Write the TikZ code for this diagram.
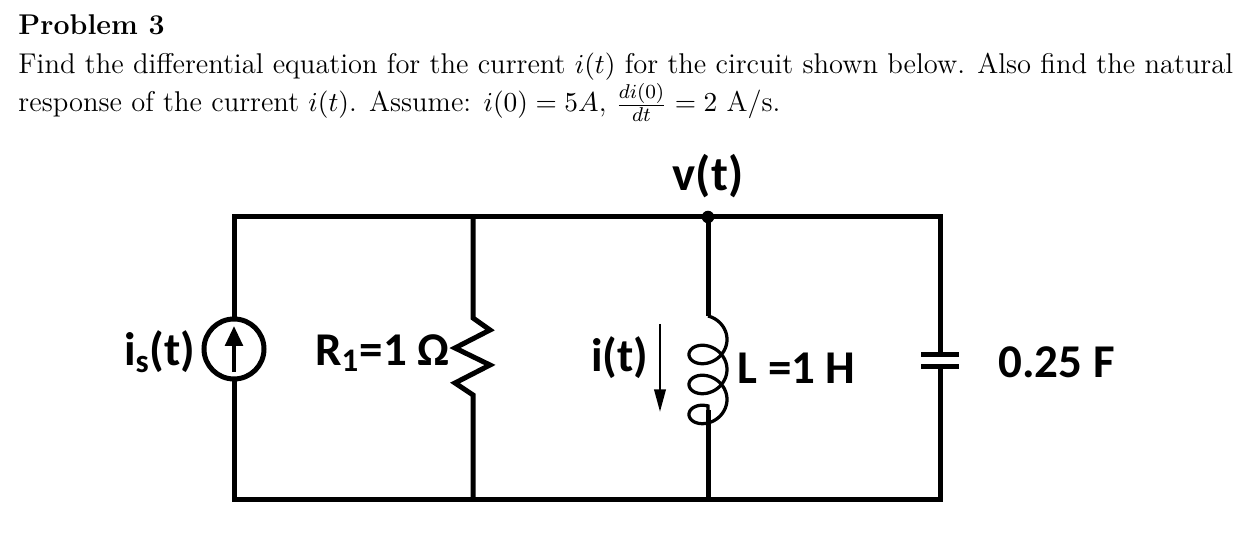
\documentclass[tikz,border=0pt]{standalone}
\usepackage{fontspec}
\newfontfamily\lab{Carlito}[BoldFont={* Bold}]
\usetikzlibrary{arrows.meta}
\begin{document}
\begin{tikzpicture}[x=0.4pt,y=-0.4pt,
  wire/.style={line width=2pt,line join=miter},
  lbl/.style={font=\lab\bfseries\fontsize{18.8}{22}\selectfont,inner sep=0pt},
  txt/.style={anchor=base west,inner sep=0pt,font=\fontsize{11.42}{13}\selectfont}]
\useasboundingbox (0,0) rectangle (1256,551);
% text
\node[txt,font=\bfseries\fontsize{11.42}{13}\selectfont] (t0) at (18,35) {Problem 3};
\node[txt] (t1) at (18,74) {Find the differential equation for the current $i(t)$ for the circuit shown below. Also find the natural};
\node[txt] (t2) at (18,112) {response of the current $i(t)$. Assume: $i(0)=5A$, $\frac{di(0)}{dt}=2$ A/s.};
% wires
\coordinate (a1) at (234,217); \coordinate (a2) at (234,500);
\coordinate (b1) at (473,217); \coordinate (b2) at (473,500);
\coordinate (c1) at (708,217); \coordinate (c2) at (708,500);
\coordinate (d1) at (940,217); \coordinate (d2) at (940,500);
\draw[wire] (a2) -- (a1) -- (d1) -- (d2) -- cycle;
% source
\node[circle,draw,line width=2pt,inner sep=0pt,fill=white,minimum size=24pt] (src) at (234,349) {};
\draw[line width=1.6pt,-{Triangle[length=8pt,width=7pt]}] (234,372) -- (234,326);
\node[lbl,anchor=east] (is) at (196,352) {i\textsubscript{s}(t)};
% resistor
\draw[wire] (b1) -- (473,318) -- (490,330) -- (455,348) -- (490,365) -- (455,383) -- (473,395) -- (b2);
\node[lbl,anchor=east] (rl) at (450,353) {R\textsubscript{1}=1 Ω};
% inductor
\draw[wire] (c1) -- (708,316);
\draw[wire] (708,410) -- (c2);
\draw[line width=1.3pt] (708,316) -- plot[domain=90:1170,samples=180,variable=\t]
  ({708-19*cos(\t)},{332+0.0833*(\t-90)-16*sin(\t)}) -- (708,412);
\node[circle,fill,inner sep=0pt,minimum size=5pt] (dot) at (c1) {};
\node[lbl] (vt) at (708,176) {\fontsize{19.5}{22}\selectfont v(t)};
\draw[line width=1.1pt,-{Triangle[length=9pt,width=4.5pt]}] (660,324) -- (660,412);
\node[lbl,anchor=east] (it) at (649,358) {i(t)};
\node[lbl,anchor=west] (ll) at (737,368) {L =1 H};
% capacitor
\fill[white] (930,355) rectangle (950,366);
\draw[line width=2pt] (921,355) -- (959,355);
\draw[line width=2pt] (921,367) -- (959,367);
\node[lbl,anchor=west] (cl) at (998,362) {0.25 F};
\end{tikzpicture}
\end{document}
